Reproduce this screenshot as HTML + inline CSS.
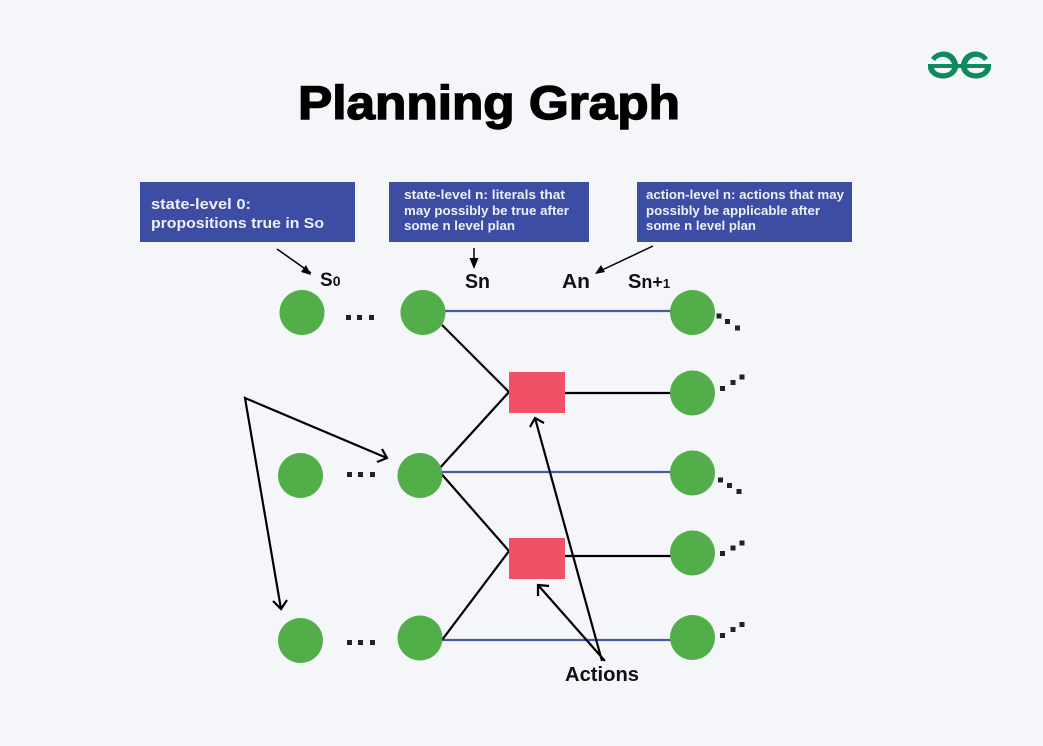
<!DOCTYPE html>
<html><head><meta charset="utf-8"><style>
html,body{margin:0;padding:0;background:#f4f6f9}
svg{display:block}
text{font-family:"Liberation Sans",sans-serif;font-weight:bold}
</style></head><body>
<svg width="1043" height="746" viewBox="0 0 1043 746" xmlns="http://www.w3.org/2000/svg">
<rect width="1043" height="746" fill="#f4f6f9"/>
<g fill="#0f8a5e">
<path d="M931 58C938 48 955 49 958 64H991V68H928V64H952C949 55 939 55 935 61Z"/>
<path d="M988 58C981 48 964 49 961 64H958V68H961V64H967C970 55 980 55 984 61Z"/>
<path d="M928 68H934C936 75 950 75 952 68H958C955 82 931 82 928 68Z"/>
<path d="M991 68H985C983 75 969 75 967 68H961C964 82 988 82 991 68Z"/>
</g>
<text x="298" y="119" font-size="47" fill="#000" stroke="#000" stroke-width="1.400" textLength="382" lengthAdjust="spacingAndGlyphs">Planning Graph</text>

<rect x="140" y="182" width="215" height="60" fill="#3c4da3"/>
<rect x="389" y="182" width="200" height="60" fill="#3c4da3"/>
<rect x="637" y="182" width="215" height="60" fill="#3c4da3"/>
<g fill="#eef0f8">
<text x="151" y="209" font-size="15" textLength="100" lengthAdjust="spacingAndGlyphs">state-level 0:</text>
<text x="151" y="228" font-size="15" textLength="173" lengthAdjust="spacingAndGlyphs">propositions true in So</text>
<text x="404" y="199" font-size="12.500" textLength="161" lengthAdjust="spacingAndGlyphs">state-level n: literals that</text>
<text x="404" y="215" font-size="12.500" textLength="165" lengthAdjust="spacingAndGlyphs">may possibly be true after</text>
<text x="404" y="230" font-size="12.500" textLength="111" lengthAdjust="spacingAndGlyphs">some n level plan</text>
<text x="646" y="199" font-size="12.500" textLength="198" lengthAdjust="spacingAndGlyphs">action-level n: actions that may</text>
<text x="646" y="215" font-size="12.500" textLength="174" lengthAdjust="spacingAndGlyphs">possibly be applicable after</text>
<text x="646" y="230" font-size="12.500" textLength="110" lengthAdjust="spacingAndGlyphs">some n level plan</text>
</g>

<g fill="#111">
<text x="320" y="286" font-size="19">S<tspan font-size="14">0</tspan></text>
<text x="465" y="288" font-size="20" textLength="25" lengthAdjust="spacingAndGlyphs">Sn</text>
<text x="562" y="288" font-size="20" textLength="28" lengthAdjust="spacingAndGlyphs">An</text>
<text x="628" y="288" font-size="20">S<tspan font-size="18">n+</tspan><tspan font-size="13">1</tspan></text>
<text x="565" y="681" font-size="20" textLength="74" lengthAdjust="spacingAndGlyphs">Actions</text>
</g>

<g stroke="#4a5aa8" stroke-width="2.200" fill="none">
<line x1="440" y1="311" x2="672" y2="311"/>
<line x1="438" y1="472" x2="672" y2="472"/>
<line x1="440" y1="640" x2="672" y2="640"/>
</g>
<g stroke="#000" stroke-width="2.200" fill="none">
<path d="M442 325L509 392"/>
<path d="M438 470L509 392"/>
<path d="M438 470L509 551"/>
<path d="M442 640L509 551"/>
<path d="M565 393H672"/>
<path d="M565 556H672"/>
</g>

<rect x="509" y="372" width="56" height="41" fill="#f25064"/>
<rect x="509" y="538" width="56" height="41" fill="#f25064"/>

<g fill="#51ae48">
<circle cx="302" cy="312.500" r="22.500"/>
<circle cx="423" cy="312.500" r="22.500"/>
<circle cx="692.500" cy="312.500" r="22.500"/>
<circle cx="692.500" cy="393" r="22.500"/>
<circle cx="692.500" cy="473" r="22.500"/>
<circle cx="692.500" cy="553" r="22.500"/>
<circle cx="692.500" cy="637.500" r="22.500"/>
<circle cx="300.500" cy="475.500" r="22.500"/>
<circle cx="420" cy="475.500" r="22.500"/>
<circle cx="300.500" cy="640.500" r="22.500"/>
<circle cx="420" cy="638" r="22.500"/>
</g>

<g fill="#222">
<rect x="346" y="315" width="5" height="5"/><rect x="357" y="315" width="5" height="5"/><rect x="369" y="315" width="5" height="5"/>
<rect x="347" y="472" width="5" height="5"/><rect x="358" y="472" width="5" height="5"/><rect x="370" y="472" width="5" height="5"/>
<rect x="347" y="640" width="5" height="5"/><rect x="358" y="640" width="5" height="5"/><rect x="370" y="640" width="5" height="5"/>
<rect x="716.500" y="313.500" width="5" height="5"/><rect x="725" y="319" width="5" height="5"/><rect x="735" y="325.500" width="5" height="5"/>
<rect x="720" y="386" width="5" height="5"/><rect x="730.500" y="380" width="5" height="5"/><rect x="739.500" y="374.500" width="5" height="5"/>
<rect x="718" y="477.500" width="5" height="5"/><rect x="727" y="483" width="5" height="5"/><rect x="736.500" y="489" width="5" height="5"/>
<rect x="720" y="551" width="5" height="5"/><rect x="730.500" y="545.500" width="5" height="5"/><rect x="739.500" y="540.500" width="5" height="5"/>
<rect x="720" y="633" width="5" height="5"/><rect x="730.500" y="627" width="5" height="5"/><rect x="739.500" y="622" width="5" height="5"/>
</g>

<g stroke="#000" stroke-width="1.500" fill="none">
<line x1="277" y1="249" x2="311" y2="273"/>
<line x1="474" y1="248" x2="474" y2="266"/>
<line x1="653" y1="246" x2="600" y2="271"/>
</g>
<g fill="#000">
<path d="M311 275L301 272L306 265Z"/>
<path d="M474 269L469.500 258H478.500Z"/>
<path d="M595 274L601 265L605 272Z"/>
</g>

<g stroke="#000" stroke-width="2.200" fill="none">
<path d="M387 458L245 398L281 609"/>
<path d="M273 601L281 609L287 600"/>
<path d="M377 462L387 458L382 449"/>
<path d="M605 661L538 585"/>
<path d="M538 596L538 585L549 586"/>
<path d="M602 661L535 418"/>
<path d="M530 427L535 418L544 423"/>
</g>
</svg>
</body></html>
